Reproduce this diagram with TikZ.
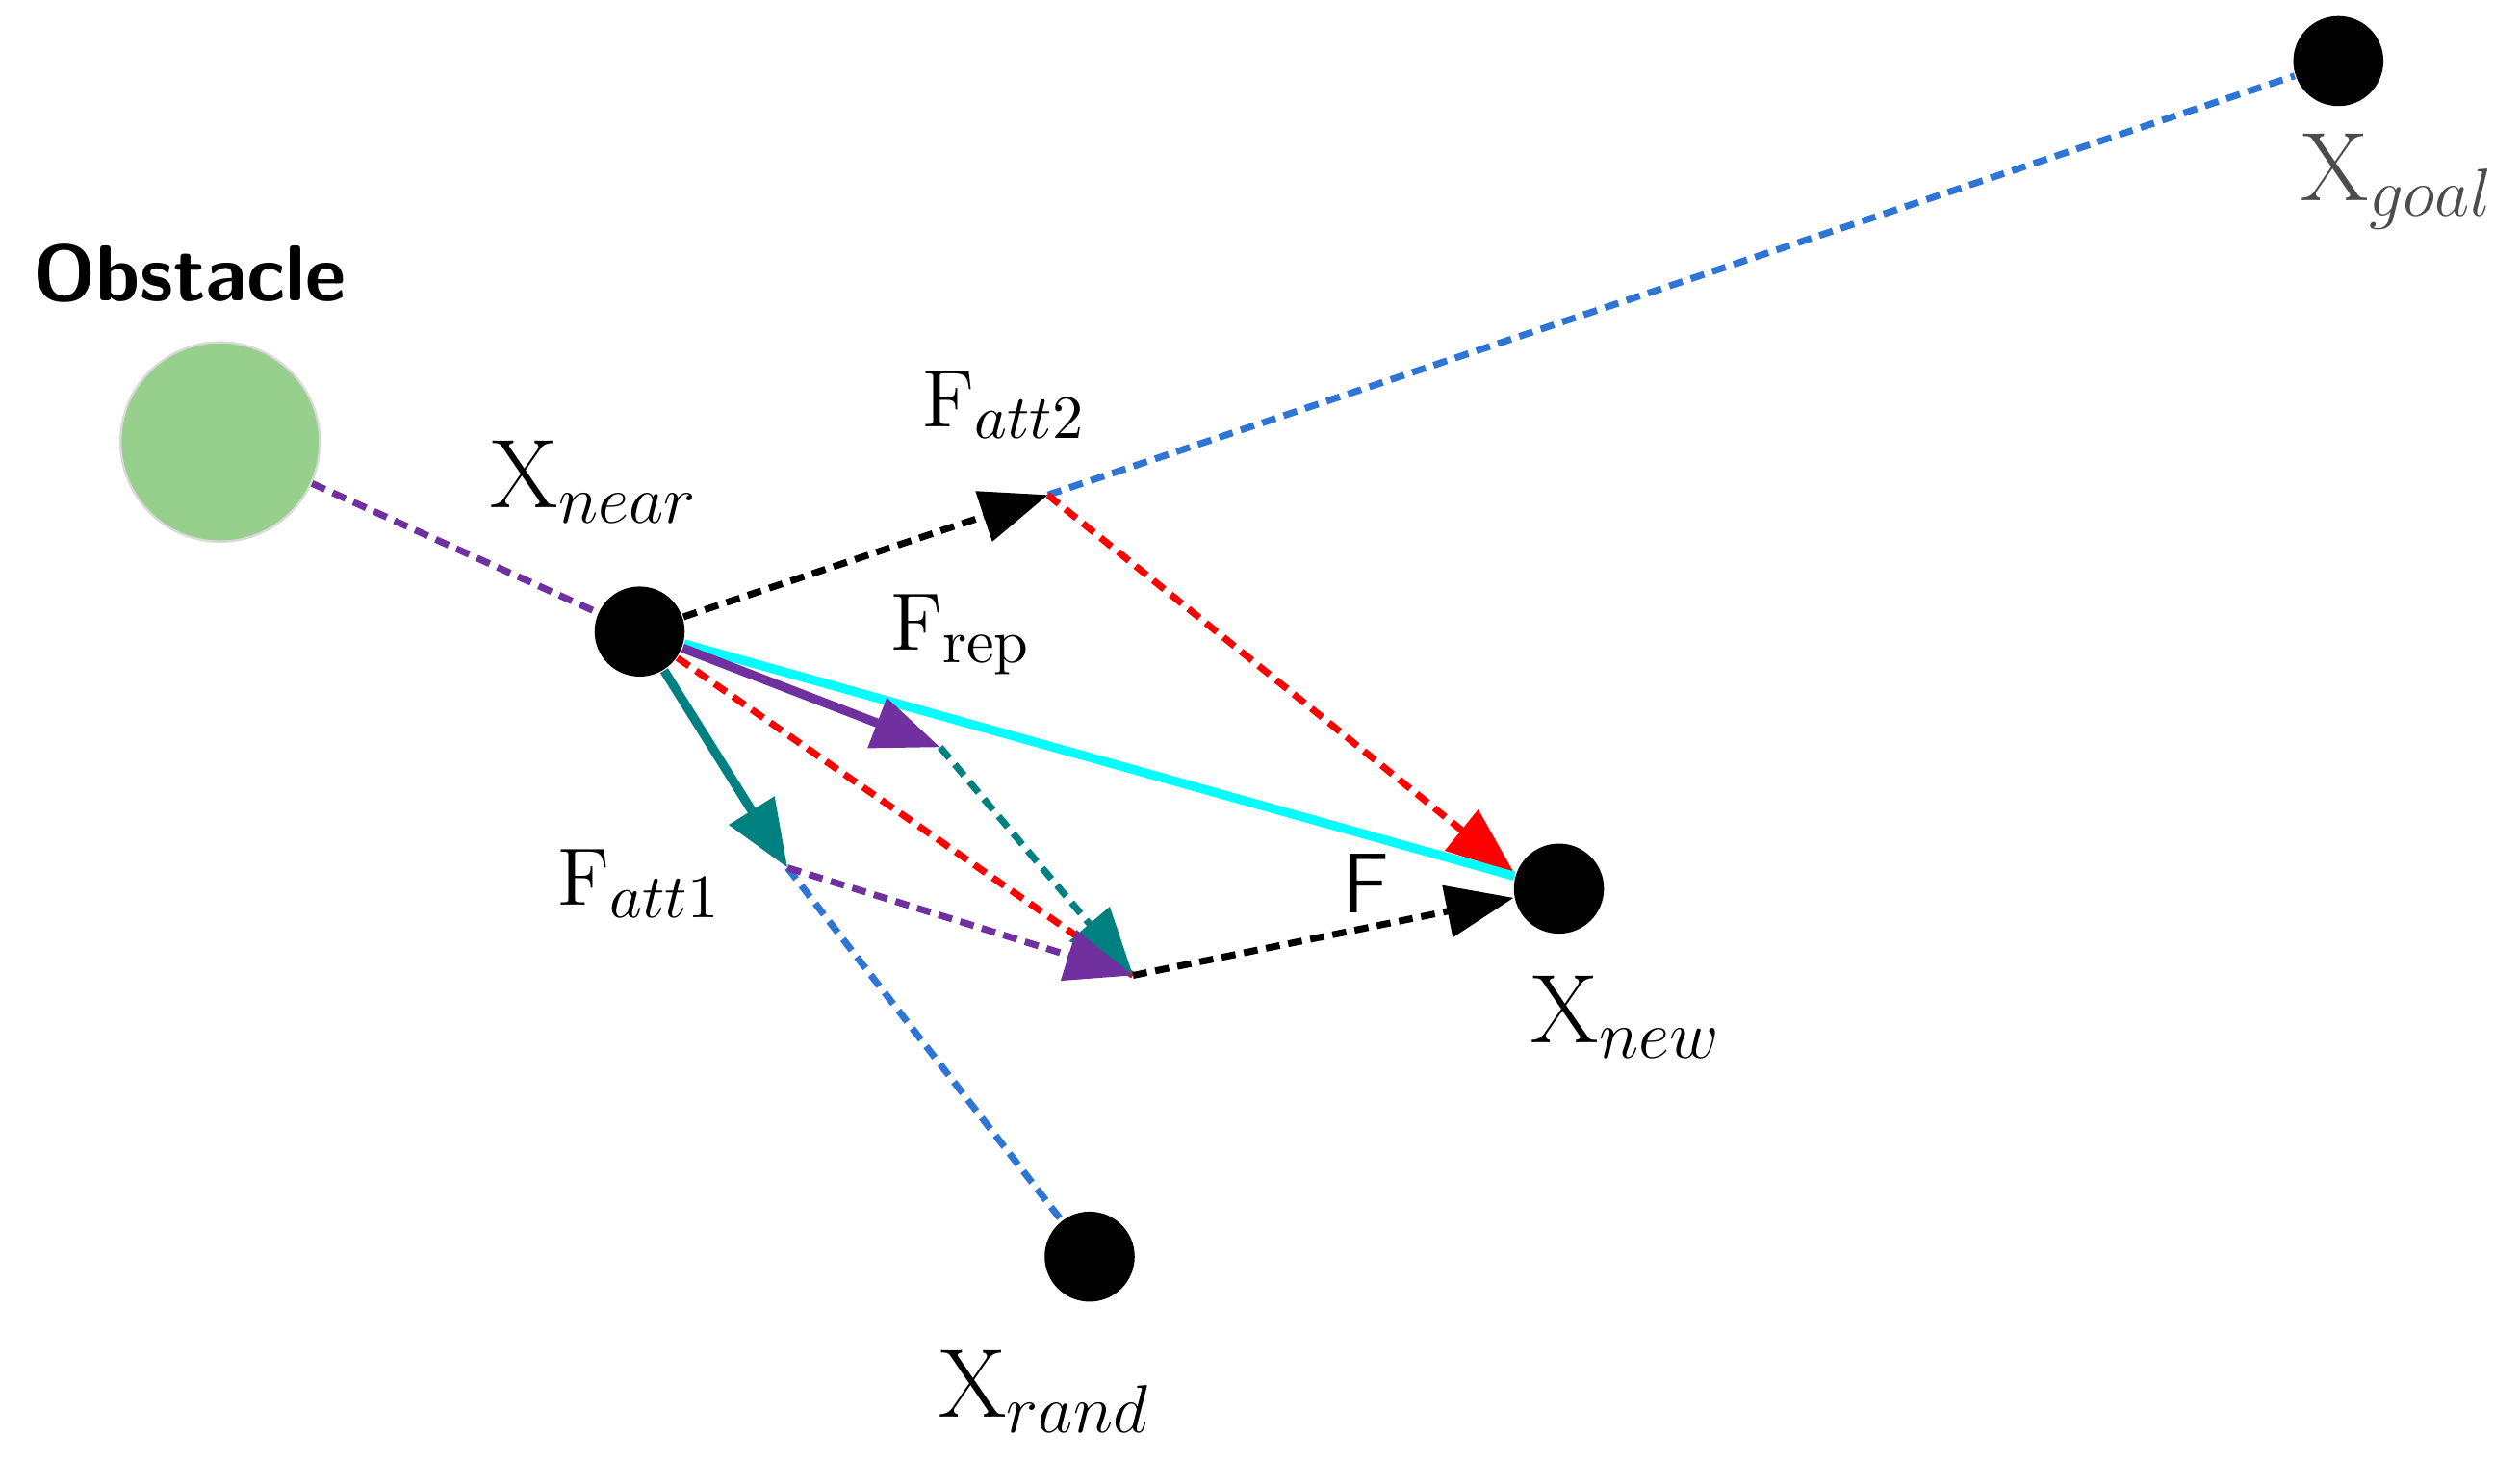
\documentclass[tikz,border=0pt]{standalone}
\usetikzlibrary{arrows.meta}
\definecolor{obs}{RGB}{150,208,140}
\definecolor{pur}{RGB}{112,48,160}
\definecolor{tea}{RGB}{0,128,128}
\definecolor{blu}{RGB}{46,117,214}
\definecolor{cya}{RGB}{0,255,255}
\tikzset{
 pt/.style={circle,fill=black,minimum size=0.56cm,inner sep=0},
 lbl/.style={font=\fontsize{15}{18}\selectfont},
 big/.style={font=\fontsize{17}{20}\selectfont},
 tip/.style={-{Triangle[length=0.42cm,width=0.32cm]}},
 dsh/.style={dashed,dash pattern=on 2.5pt off 1.5pt,line width=1.2pt},
 sol/.style={line width=1.6pt}
}
\begin{document}
\begin{tikzpicture}[x=0.01cm,y=-0.01cm]
\useasboundingbox (0,0) rectangle (1568,908);
\node[circle,fill=obs,draw=black!15,minimum size=1.24cm] (obs) at (137,275) {};
\node[font=\sffamily\bfseries\fontsize{14}{17}\selectfont] (obsl) at (118,170) {Obstacle};
\node[pt] (near) at (398,393) {};
\node[pt] (goal) at (1455,38) {};
\node[pt] (new) at (970,553) {};
\node[pt] (rand) at (678,782) {};
\coordinate (a2) at (652,308);
\coordinate (rp) at (585,465);
\coordinate (a1) at (490,540);
\coordinate (s) at (705,607);
% lines
\draw[dsh,pur] (obs) -- (near);
\draw[dsh,blu] (a2) -- (goal);
\draw[dsh,blu] (a1) -- (rand);
\draw[dsh,red] (near) -- (s);
\draw[dsh,red,tip] (a2) -- (942,543);
\draw[sol,cya] (near) -- (new);
\draw[dsh,black,tip] (near) -- (a2);
\draw[sol,pur,tip] (near) -- (rp);
\draw[sol,tea,tip] (near) -- (a1);
\draw[dsh,tea,tip] (rp) -- (s);
\draw[dsh,pur,tip] (a1) -- (s);
\draw[dsh,black,tip] (s) -- (new);
% labels
\node[big] (ln) at (370,300) {$\mathrm{X}_{\scriptstyle near}$};
\node[big] (lg) at (1492,113) {\color{black!70}$\mathrm{X}_{\scriptstyle goal}$};
\node[big] (lw) at (1012,633) {$\mathrm{X}_{\scriptstyle new}$};
\node[big] (lr) at (650,866) {$\mathrm{X}_{\scriptstyle rand}$};
\node[lbl] (la2) at (625,252) {$\mathrm{F}_{att2}$};
\node[lbl] (lrp) at (598,395) {$\mathrm{F}_{\mathrm{rep}}$};
\node[lbl] (la1) at (398,550) {$\mathrm{F}_{att1}$};
\node[font=\sffamily\fontsize{15}{18}\selectfont] (lf) at (850,550) {F};
\end{tikzpicture}
\end{document}
